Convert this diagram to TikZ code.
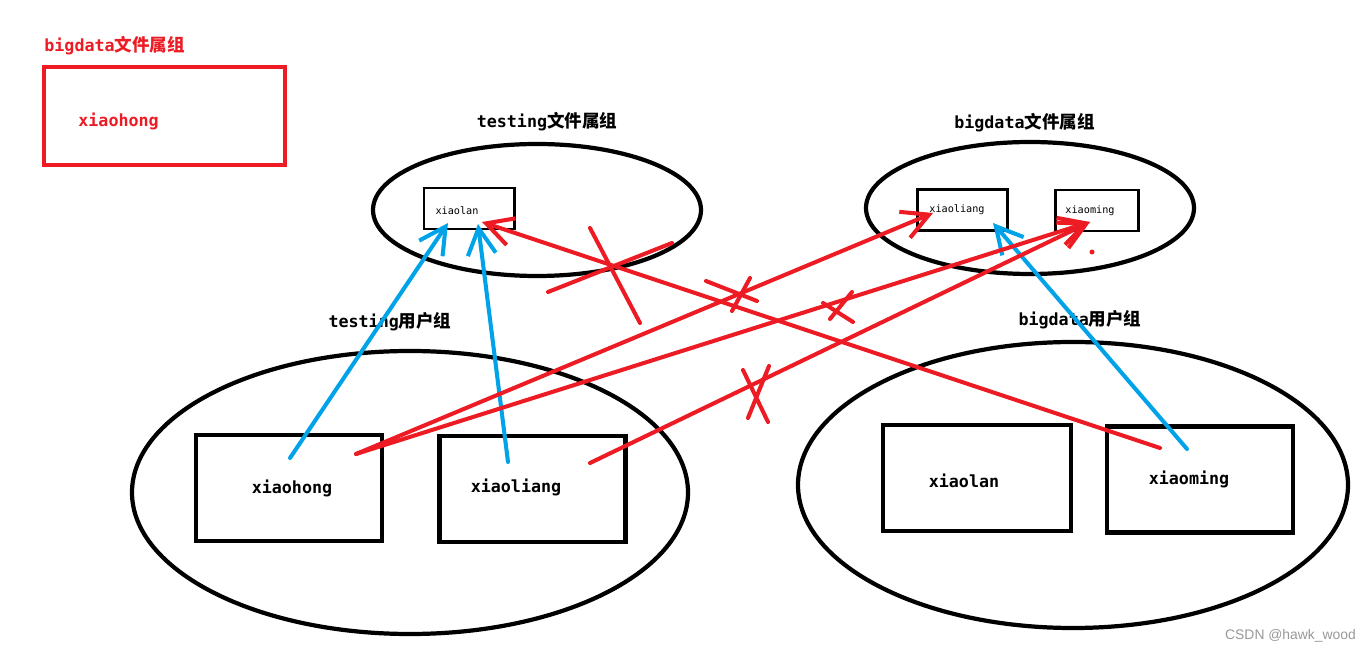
\documentclass[tikz,border=0pt]{standalone}
\usepackage{fontspec}
\setmonofont{DejaVu Sans Mono}
\newfontfamily\cjk[Scale=1.05]{Noto Sans CJK SC}
\newfontfamily\marksans{Liberation Sans}
\usetikzlibrary{arrows.meta,shapes.geometric}
\definecolor{PaintRed}{HTML}{ED1C24}
\definecolor{PaintBlue}{HTML}{00A2E8}
\definecolor{MarkGray}{HTML}{999999}

\begin{document}
\begin{tikzpicture}[
  grp/.style={draw, ellipse, line width=2.4pt, inner sep=0pt},
  ubox/.style={draw, line width=2.5pt, minimum width=3.72cm, minimum height=2.12cm, inner sep=0pt},
  fbox/.style={draw, line width=1.7pt, minimum width=1.8cm, minimum height=0.82cm, inner sep=0pt},
  ttl/.style={inner sep=0pt, font=\ttfamily\bfseries\fontsize{9.5}{11}\selectfont},
  small/.style={inner sep=0pt, font=\ttfamily\fontsize{5.8}{7}\selectfont},
  allow/.style={PaintBlue, line width=2.3pt, line cap=round, -{Straight Barb[length=15pt, width=16pt]}},
  deny/.style={PaintRed, line width=2.3pt, line cap=round, -{Straight Barb[length=15pt, width=16pt]}},
  xmark/.style={PaintRed, line width=2.3pt, line cap=round}
]
\useasboundingbox[fill=white] (0,0) rectangle (27.42,-13.06);

\node[ttl, PaintRed, anchor=west] (owntitle) at (0.88,-0.92) {bigdata{\cjk 文件属组}};
\node[draw=PaintRed, line width=2.8pt, minimum width=4.82cm, minimum height=1.96cm] (own) at (3.29,-2.32) {};
\node[ttl, PaintRed, anchor=west] (ownname) at (1.56,-2.42) {xiaohong};

\node[ttl] (tfiletitle) at (10.94,-2.44) {testing{\cjk 文件属组}};
\node[ttl] (bfiletitle) at (20.49,-2.46) {bigdata{\cjk 文件属组}};
\node[ttl] (tusertitle) at (7.8,-6.44) {testing{\cjk 用户组}};
\node[ttl] (busertitle) at (21.6,-6.4) {bigdata{\cjk 用户组}};

\node[grp, minimum width=6.56cm, minimum height=2.64cm] (tfile) at (10.74,-4.2) {};
\node[grp, minimum width=6.56cm, minimum height=2.64cm] (bfile) at (20.6,-4.16) {};
\node[grp, minimum width=11.12cm, minimum height=5.66cm] (tuser) at (8.2,-9.85) {};
\node[grp, minimum width=11.0cm, minimum height=5.72cm] (buser) at (21.46,-9.7) {};

\node[fbox, label={[small, xshift=-0.24cm, yshift=-0.05cm]center:xiaolan}] (flan) at (9.38,-4.17) {};
\node[fbox, label={[small, xshift=-0.1cm]center:xiaoliang}] (fliang) at (19.24,-4.2) {};
\node[fbox, minimum width=1.66cm, label={[small, xshift=-0.13cm]center:xiaoming}] (fming) at (21.93,-4.21) {};

\node[ubox, label={[ttl, xshift=0.06cm]center:xiaohong}] (uhong) at (5.78,-9.76) {};
\node[ubox, label={[ttl, xshift=-0.33cm, yshift=0.04cm]center:xiaoliang}] (uliang) at (10.65,-9.78) {};
\node[ubox, minimum width=3.76cm, label={[ttl, xshift=-0.26cm, yshift=-0.06cm]center:xiaolan}] (ulan) at (19.54,-9.56) {};
\node[ubox, label={[ttl, xshift=-0.22cm]center:xiaoming}] (uming) at (24.0,-9.59) {};

\coordinate (hongA) at (5.8,-9.16);
\coordinate (hongB) at (7.12,-9.08);
\coordinate (liangA) at (10.16,-9.24);
\coordinate (liangB) at (11.8,-9.26);
\coordinate (mingA) at (23.2,-8.96);
\coordinate (mingB) at (23.74,-8.98);
\coordinate (lanT1) at (8.96,-4.46);
\coordinate (lanT2) at (9.56,-4.48);
\coordinate (lanT3) at (9.64,-4.44);
\coordinate (liangT1) at (18.66,-4.26);
\coordinate (liangT2) at (19.86,-4.46);
\coordinate (mingT) at (21.8,-4.44);

\draw[allow] (hongA) -- (lanT1);
\draw[allow] (liangA) -- (lanT2);
\draw[allow] (mingB) -- (liangT2);
\draw[deny] (mingA) -- (lanT3);
\draw[deny] (hongB) -- (liangT1);
\draw[deny] (hongB) -- (mingT);
\draw[deny] (liangB) -- (mingT);

\draw[xmark] (11.8,-4.56) -- (12.8,-6.46) (10.96,-5.84) -- (13.44,-4.86);
\draw[xmark] (14.12,-5.62) -- (15.14,-6.02) (15.0,-5.56) -- (14.64,-6.22);
\draw[xmark] (16.46,-6.06) -- (17.06,-6.44) (17.04,-5.84) -- (16.6,-6.38);
\draw[xmark] (14.86,-7.4) -- (15.36,-8.44) (15.38,-7.32) -- (14.96,-8.36);
\fill[PaintRed] (21.84,-5.04) circle (0.05);

\node[MarkGray, font=\marksans\fontsize{7.9}{9}\selectfont] (csdn) at (25.81,-12.72) {CSDN @hawk\_wood};
\end{tikzpicture}
\end{document}
